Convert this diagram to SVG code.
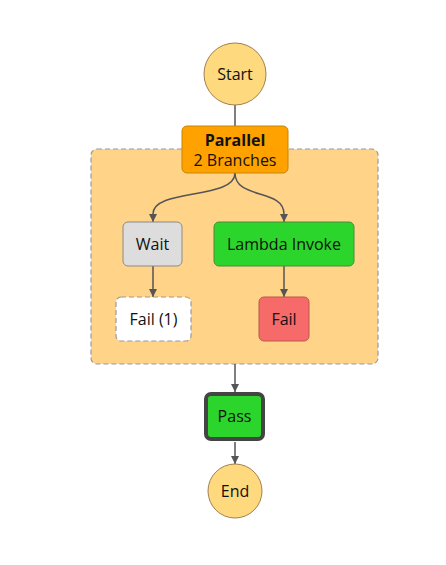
<svg xmlns="http://www.w3.org/2000/svg" width="446" height="565" viewBox="0 0 446 565">
<defs>
<style>
text{font-family:"Open Sans","Noto Sans",sans-serif;font-size:16px;fill:#111;text-anchor:middle}
.b{font-weight:bold}
.edge{fill:none;stroke:#555;stroke-width:1.5}
.circ{fill:#ffd97e;stroke:#a08050;stroke-width:1}
</style>
<marker id="ah" viewBox="0 0 10 10" refX="10" refY="5" markerWidth="8" markerHeight="8" markerUnits="userSpaceOnUse" orient="auto">
<path d="M0,0 L10,5 L0,10 z" fill="#555"/>
</marker>
</defs>
<rect width="446" height="565" fill="#fff"/>
<g id="parallel-container">
<rect x="91" y="149" width="287" height="215" rx="6" fill="#ffd488" stroke="#9a9a9a" stroke-width="1.2" stroke-dasharray="5,3"/>
</g>
<g id="connectors">
<path class="edge" d="M235,105 L235,126"/>
<path class="edge" d="M235,173 C235,200 153,188 153,214 L153,222" marker-end="url(#ah)"/>
<path class="edge" d="M235,173 C235,200 284,188 284,214 L284,222" marker-end="url(#ah)"/>
<path class="edge" d="M153,266 L153,297" marker-end="url(#ah)"/>
<path class="edge" d="M284,266 L284,297" marker-end="url(#ah)"/>
<path class="edge" d="M235,364 L235,392" marker-end="url(#ah)"/>
<path class="edge" d="M235,442 L235,464" marker-end="url(#ah)"/>
</g>
<g id="start">
<circle class="circ" cx="235" cy="74" r="31"/>
<text x="235" y="80">Start</text>
</g>
<g id="parallel">
<rect x="182" y="126" width="106" height="47" rx="5" fill="#ffa200" stroke="#c88400" stroke-width="1"/>
<text class="b" x="235" y="146">Parallel</text>
<text x="235" y="166">2 Branches</text>
</g>
<g id="wait">
<rect x="123" y="222" width="59" height="44" rx="5" fill="#dddddd" stroke="#8a8a8a" stroke-width="1"/>
<text x="152.5" y="250">Wait</text>
</g>
<g id="lambda">
<rect x="214" y="222" width="140" height="44" rx="5" fill="#2bd52b" stroke="#4d8a3a" stroke-width="1"/>
<text x="284" y="250">Lambda Invoke</text>
</g>
<g id="fail1">
<rect x="116" y="297" width="75" height="44" rx="5" fill="#ffffff" stroke="#9a9a9a" stroke-width="1.2" stroke-dasharray="5,3"/>
<text x="153.5" y="325">Fail (1)</text>
</g>
<g id="fail">
<rect x="259" y="297" width="50" height="44" rx="5" fill="#f76a6a" stroke="#b85a4a" stroke-width="1"/>
<text x="284" y="325">Fail</text>
</g>
<g id="pass">
<rect x="206" y="394" width="57" height="45" rx="5" fill="#2bd52b" stroke="#444" stroke-width="4"/>
<text x="234.5" y="422">Pass</text>
</g>
<g id="end">
<circle class="circ" cx="235" cy="491" r="27"/>
<text x="235" y="497">End</text>
</g>
</svg>
